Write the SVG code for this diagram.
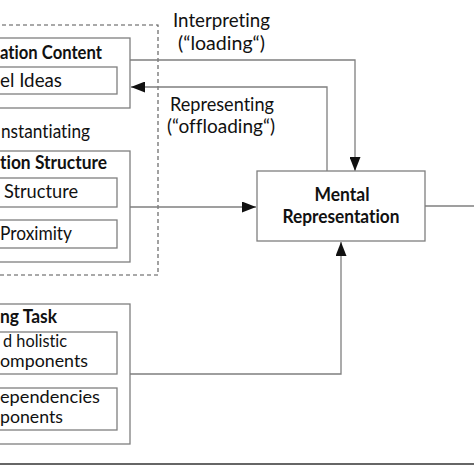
<svg xmlns="http://www.w3.org/2000/svg" width="474" height="474" viewBox="0 0 474 474">
<style>
.box{fill:#fff;stroke:#7f7f7f;stroke-width:1.3}
.t{font-family:Lato,"Liberation Sans",sans-serif;font-size:18.5px;fill:#111;font-variant-ligatures:none}
.m{font-size:16.5px}
.b{font-weight:bold}
.c{fill:none;stroke:#7f7f7f;stroke-width:1.3}
</style>
<defs>
<marker id="ah" markerUnits="userSpaceOnUse" markerWidth="15" markerHeight="11" refX="14" refY="5.5" orient="auto">
<path d="M0,0 L14,5.5 L0,11 Z" fill="#111"/>
</marker>
</defs>
<rect width="474" height="474" fill="#fff"/>
<g id="dashed-group">
<path d="M-5,25 H158 V275 H-5" fill="none" stroke="#555" stroke-width="1.1" stroke-dasharray="4,3"/>
</g>
<g id="connectors">
<path class="c" d="M130,60 H355 V171" marker-end="url(#ah)"/>
<path class="c" d="M327,171 V87 H131" marker-end="url(#ah)"/>
<path class="c" d="M130,207 H256" marker-end="url(#ah)"/>
<path class="c" d="M130,374 H341 V242" marker-end="url(#ah)"/>
<path class="c" d="M425,206 H480"/>
</g>
<g id="labels">
<text class="t" x="173" y="27" textLength="97" lengthAdjust="spacingAndGlyphs">Interpreting</text>
<text class="t" x="178" y="50" textLength="87" lengthAdjust="spacingAndGlyphs">(“loading“)</text>
<text class="t" x="170" y="111" textLength="104" lengthAdjust="spacingAndGlyphs">Representing</text>
<text class="t" x="167" y="133" textLength="108" lengthAdjust="spacingAndGlyphs">(“offloading“)</text>
<text class="t" x="1" y="138" textLength="89" lengthAdjust="spacingAndGlyphs">nstantiating</text>
</g>
<g id="content">
<rect class="box" x="-10" y="38" width="140" height="70"/>
<text class="t b" x="0" y="59" textLength="102" lengthAdjust="spacingAndGlyphs">ation Content</text>
<rect class="box" x="-10" y="67" width="127" height="27"/>
<text class="t" x="0" y="87" textLength="62" lengthAdjust="spacingAndGlyphs">el Ideas</text>
</g>
<g id="structure">
<rect class="box" x="-10" y="151" width="140" height="111"/>
<text class="t b" x="0" y="169" textLength="107" lengthAdjust="spacingAndGlyphs">tion Structure</text>
<rect class="box" x="-10" y="178" width="127" height="29"/>
<text class="t" x="4" y="198" textLength="74" lengthAdjust="spacingAndGlyphs">Structure</text>
<rect class="box" x="-10" y="220" width="127" height="28"/>
<text class="t" x="0" y="240" textLength="72" lengthAdjust="spacingAndGlyphs">Proximity</text>
</g>
<g id="task">
<rect class="box" x="-10" y="304" width="140" height="140"/>
<text class="t b" x="0" y="323" textLength="57" lengthAdjust="spacingAndGlyphs">ng Task</text>
<rect class="box" x="-10" y="332" width="127" height="42"/>
<text class="t m" x="3" y="347" textLength="64" lengthAdjust="spacingAndGlyphs">d holistic</text>
<text class="t m" x="0" y="367" textLength="88" lengthAdjust="spacingAndGlyphs">omponents</text>
<rect class="box" x="-10" y="388" width="127" height="42"/>
<text class="t m" x="0" y="403" textLength="100" lengthAdjust="spacingAndGlyphs">ependencies</text>
<text class="t m" x="0" y="423" textLength="63" lengthAdjust="spacingAndGlyphs">ponents</text>
</g>
<g id="mental">
<rect class="box" x="257" y="171" width="168" height="70"/>
<text class="t b" x="342" y="201" text-anchor="middle" textLength="55" lengthAdjust="spacingAndGlyphs">Mental</text>
<text class="t b" x="341" y="223" text-anchor="middle" textLength="117" lengthAdjust="spacingAndGlyphs">Representation</text>
</g>
<g id="footer">
<line x1="0" y1="464" x2="474" y2="464" stroke="#333" stroke-width="1.6"/>
</g>
</svg>
